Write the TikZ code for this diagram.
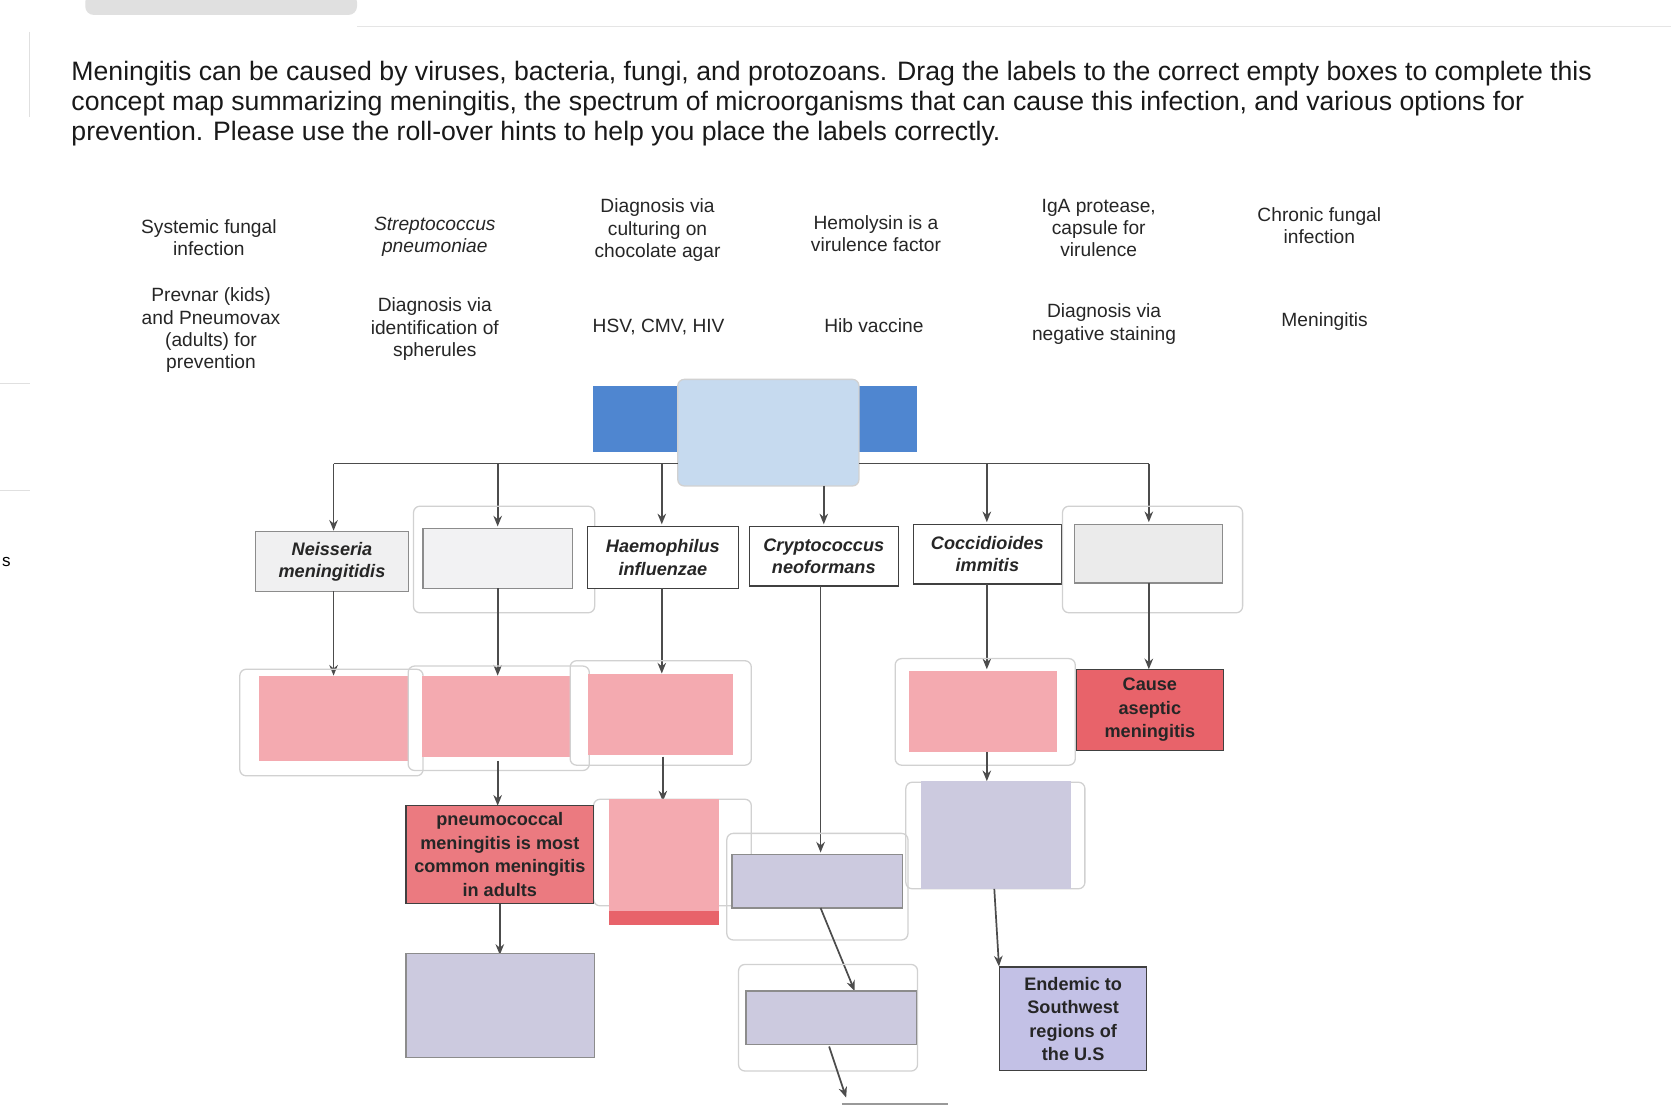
\documentclass[tikz,border=0pt]{standalone}
\usepackage{fontspec}
\setmainfont{Liberation Sans}
\usetikzlibrary{arrows.meta}
\definecolor{pk}{HTML}{F4AAB0}
\definecolor{rd}{HTML}{E8636A}
\definecolor{lv}{HTML}{CCCADF}
\definecolor{bl}{HTML}{4F86D0}
\definecolor{lb}{HTML}{C6DAEF}
\definecolor{en}{HTML}{C3C1E6}
\begin{document}
\begin{tikzpicture}[x=0.5pt,y=-0.5pt,
 lab/.style={align=center,font=\fontsize{9}{10.5}\selectfont,text=black!85},
 outer/.style={draw=black!18,rounded corners=3pt,line width=0.6pt},
 box/.style={draw=black!45,line width=0.6pt},
 tag/.style={box,draw=black!75,align=center,font=\fontsize{8.5}{10.5}\selectfont\bfseries\itshape,text=black!85},
 arr/.style={-{Stealth[length=5pt,width=4pt]},black!70,line width=0.8pt},
 ln/.style={black!70,line width=0.8pt}]
\useasboundingbox (0,0) rectangle (1568,1038);
\fill[white] (0,0) rectangle (1568,1038);
\fill[black!12,rounded corners=4pt] (80,-6) rectangle (335,14);
\draw[black!10] (335,25) -- (1568,25);
\draw[black!12] (28,30) -- (28,110) (0,360) -- (28,360) (0,460) -- (28,460);
\node[font=\fontsize{8}{9}\selectfont] (s) at (6,527) {s};
\node[anchor=north west,align=left,font=\fontsize{12.5}{14.2}\selectfont,text=black!90] (hd) at (60,50)
{Meningitis can be caused by viruses, bacteria, fungi, and protozoans. Drag the labels to the correct empty boxes to complete this\\
concept map summarizing meningitis, the spectrum of microorganisms that can cause this infection, and various options for\\
prevention. Please use the roll-over hints to help you place the labels correctly.};
% label bank
\node[lab] (l1) at (196,223) {Systemic fungal\\infection};
\node[lab,font=\fontsize{9}{10.5}\selectfont\itshape] (l2) at (408,222) {Streptococcus\\pneumoniae};
\node[lab] (l3) at (617,216) {Diagnosis via\\culturing on\\chocolate agar};
\node[lab] (l4) at (822,219) {Hemolysin is a\\virulence factor};
\node[lab] (l5) at (1031,214) {IgA protease,\\capsule for\\virulence};
\node[lab] (l6) at (1238,212) {Chronic fungal\\infection};
\node[lab] (l7) at (198,310) {Prevnar (kids)\\and Pneumovax\\(adults) for\\prevention};
\node[lab] (l8) at (408,309) {Diagnosis via\\identification of\\spherules};
\node[lab] (l9) at (618,307) {HSV, CMV, HIV};
\node[lab] (l10) at (820,306) {Hib vaccine};
\node[lab] (l11) at (1036,304) {Diagnosis via\\negative staining};
\node[lab] (l12) at (1243,302) {Meningitis};
% top
\fill[bl] (556,362) rectangle (860,424);
\draw[outer,fill=lb] (636,356) rectangle (806,456);
\draw[ln] (313,435) -- (636,435) (806,435) -- (1078,435);
\foreach \x/\s/\y/\n in {313/435/498/a,467/435/494/b,621/435/492/c,773/456/492/d,926/435/490/e,1078/435/490/f}
 {\coordinate (t\n) at (\x,\s); \coordinate (d\n) at (\x,\y); \draw[arr] (t\n) -- (d\n);}
% row 1
\node[tag,box,fill=blue!6!black!6,minimum width=143*0.5pt,minimum height=56*0.5pt] (nei) at (311.5,527) {Neisseria\\meningitidis};
\draw[outer] (388,475) rectangle (558,575);
\draw[box,fill=blue!3!black!5] (397,496) rectangle (537,552);
\node[tag,fill=white,minimum width=142*0.5pt,minimum height=58*0.5pt] (hae) at (622,523) {Haemophilus\\influenzae};
\node[tag,fill=white,minimum width=140*0.5pt,minimum height=56*0.5pt] (cry) at (773,522) {Cryptococcus\\neoformans};
\node[tag,fill=white,minimum width=139*0.5pt,minimum height=56*0.5pt] (coc) at (926.5,520) {Coccidioides\\immitis};
\draw[outer] (997,475) rectangle (1166,575);
\draw[box,fill=blue!4!black!8] (1008,492) rectangle (1147,547);
% row1 -> row2
\draw[arr] (313,555) -- (313,634);
\draw[arr] (467,552) -- (467,634);
\draw[arr] (621,552) -- (621,632);
\draw[arr] (926,548) -- (926,628);
\draw[arr] (1078,547) -- (1078,628);
\draw[arr] (770,550) -- (770,800);
% row 2
\draw[outer] (225,628) rectangle (397,728); \fill[pk] (243,634) rectangle (383,714);
\draw[outer] (383,625) rectangle (553,723); \fill[pk] (396,634) rectangle (535,710);
\draw[outer] (535,620) rectangle (705,718); \fill[pk] (552,632) rectangle (688,708);
\draw[outer] (840,618) rectangle (1009,718); \fill[pk] (853,630) rectangle (992,706);
\node[tag,font=\fontsize{8.5}{11}\selectfont\bfseries,fill=rd,minimum width=138*0.5pt,minimum height=76*0.5pt] (asep) at (1079,666) {Cause\\aseptic\\meningitis};
\draw[arr] (467,714) -- (467,756);
\draw[arr] (622,710) -- (622,752);
\draw[arr] (926,706) -- (926,733);
% row 3
\draw[outer] (557,750) rectangle (705,850);
\fill[pk] (571,750) rectangle (675,868); \fill[rd] (571,855) rectangle (675,868);
\node[tag,font=\fontsize{8.5}{11}\selectfont\bfseries,fill=rd!85,minimum width=176*0.5pt,minimum height=92*0.5pt] (pne) at (469,802) {pneumococcal\\meningitis is most\\common meningitis\\in adults};
\draw[outer] (682,782) rectangle (852,882); \draw[box,fill=lv] (687,802) rectangle (847,852);
\draw[outer] (850,734) rectangle (1018,834); \fill[lv] (864,733) rectangle (1005,834);
\draw[arr] (469,848) -- (469,896);
\draw[box,fill=lv] (381,895) rectangle (558,992);
\draw[arr] (770,852) -- (802,930);
\draw[outer] (693,905) rectangle (861,1005); \draw[box,fill=lv] (700,930) rectangle (860,980);
\draw[arr] (778,982) -- (794,1030);
\node[tag,font=\fontsize{8.5}{11}\selectfont\bfseries,fill=en,minimum width=138*0.5pt,minimum height=97*0.5pt] (end) at (1007,956) {Endemic to\\Southwest\\regions of\\the U.S};
\draw[arr] (933,834) -- (end.north west);
\draw[black!40,line width=0.8pt] (790,1036) -- (890,1036);
\end{tikzpicture}
\end{document}
